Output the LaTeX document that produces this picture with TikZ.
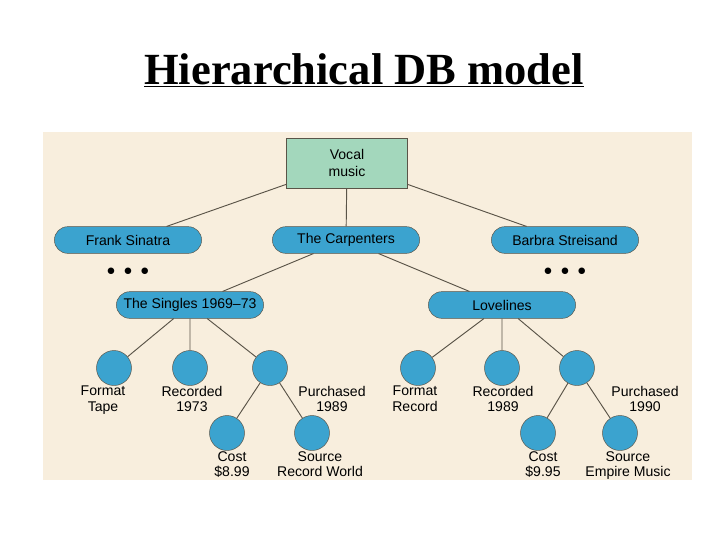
\documentclass[tikz,border=0pt]{standalone}
\usepackage{fontspec}
\setmainfont{Liberation Sans}
\newfontfamily\titlefont{Liberation Serif}
\definecolor{paper}{HTML}{F8EEDD}
\definecolor{pill}{HTML}{3BA3CF}
\definecolor{rootbox}{HTML}{A3D7BC}
\definecolor{edge}{HTML}{5A5448}
\tikzset{
    pill/.style={rounded rectangle, draw=edge, fill=pill, minimum width=4.65cm, minimum height=0.8cm, font=\fontsize{12}{14}\selectfont},
    dot/.style={circle, draw=edge, fill=pill, minimum size=1.05cm, inner sep=0pt},
    lbl/.style={anchor=north, align=center, font=\fontsize{12}{13}\selectfont, inner sep=0pt},
    link/.style={draw=edge, thick}
}
\usetikzlibrary{shapes.misc}
\begin{document}
\begin{tikzpicture}[x=0.03cm, y=-0.03cm]
            \useasboundingbox (0,0) rectangle (728,546);
            \fill[white] (0,0) rectangle (728,546);
            \fill[paper] (43,132) rectangle (692,480);
            
            \node (title) at (364,70) {\titlefont\bfseries\fontsize{38}{42}\selectfont\underline{Hierarchical DB model}};
            
            \node[draw=edge, fill=rootbox, minimum width=3.63cm, minimum height=1.5cm, align=center, font=\fontsize{12}{14}\selectfont] (vocal) at (347,163) {Vocal\\music};
            
            \node[pill] (sinatra) at (128,240) {Frank Sinatra};
            \node[pill] (carp) at (346,240) {The Carpenters};
            \node[pill] (streis) at (565,240) {Barbra Streisand};
            \node (dl) at (128,272) {\Large$\bullet\ \bullet\ \bullet$};
            \node (dr) at (565,272) {\Large$\bullet\ \bullet\ \bullet$};
            
            \node[pill] (singles) at (190,305) {The Singles 1969--73};
            \node[pill] (love) at (502,305) {Lovelines};
            
            \node[dot] (s1) at (114,368) {};
            \node[dot] (s2) at (190,368) {};
            \node[dot] (s3) at (270,368) {};
            \node[dot] (s4) at (227,433) {};
            \node[dot] (s5) at (312,433) {};
            \node[dot] (l1) at (418,368) {};
            \node[dot] (l2) at (502,368) {};
            \node[dot] (l3) at (577,368) {};
            \node[dot] (l4) at (538,433) {};
            \node[dot] (l5) at (620,433) {};
            
            \draw[link] (vocal) -- (sinatra);
            \draw[link] (vocal) -- (carp);
            \draw[link] (vocal) -- (streis);
            \draw[link] (carp) -- (singles);
            \draw[link] (carp) -- (love);
            \draw[link] (singles) -- (s1);
            \draw[link] (singles) -- (s2);
            \draw[link] (singles) -- (s3);
            \draw[link] (s3) -- (s4);
            \draw[link] (s3) -- (s5);
            \draw[link] (love) -- (l1);
            \draw[link] (love) -- (l2);
            \draw[link] (love) -- (l3);
            \draw[link] (l3) -- (l4);
            \draw[link] (l3) -- (l5);
            
            \node[lbl] (t1) at (103,386) {Format\\Tape};
            \node[lbl] (t2) at (192,386) {Recorded\\1973};
            \node[lbl] (t3) at (332,386) {Purchased\\1989};
            \node[lbl] (t4) at (232,451) {Cost\\\$8.99};
            \node[lbl] (t5) at (320,451) {Source\\Record World};
            \node[lbl] (u1) at (415,386) {Format\\Record};
            \node[lbl] (u2) at (503,386) {Recorded\\1989};
            \node[lbl] (u3) at (645,386) {Purchased\\1990};
            \node[lbl] (u4) at (543,451) {Cost\\\$9.95};
            \node[lbl] (u5) at (628,451) {Source\\Empire Music};

        \end{tikzpicture}
\end{document}
